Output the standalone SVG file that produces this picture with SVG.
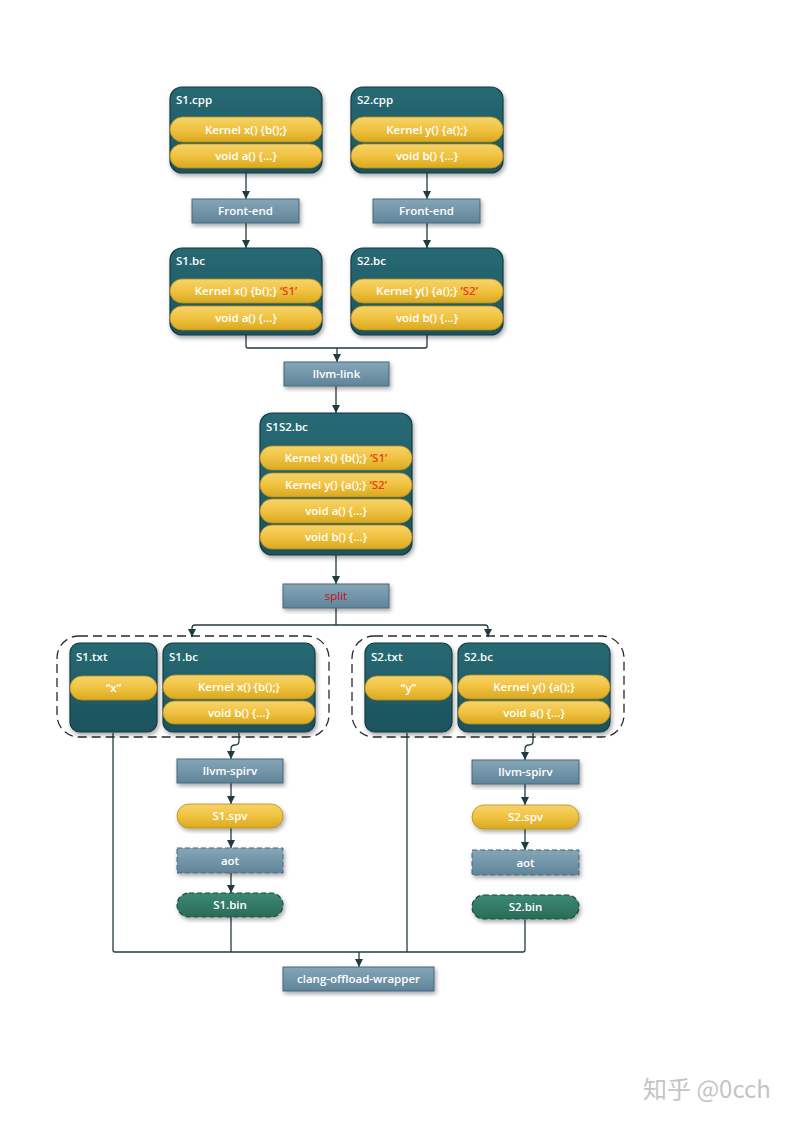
<svg xmlns="http://www.w3.org/2000/svg" width="794" height="1123" viewBox="0 0 794 1123">
<defs>
<linearGradient id="gBox" x1="0" y1="0" x2="0" y2="1"><stop offset="0" stop-color="#276a74"/><stop offset="1" stop-color="#1c525c"/></linearGradient>
<linearGradient id="gPill" x1="0" y1="0" x2="0" y2="1"><stop offset="0" stop-color="#f6d36a"/><stop offset="0.5" stop-color="#f0c240"/><stop offset="1" stop-color="#d9a81f"/></linearGradient>
<linearGradient id="gProc" x1="0" y1="0" x2="0" y2="1"><stop offset="0" stop-color="#86a6b8"/><stop offset="1" stop-color="#5f8499"/></linearGradient>
<linearGradient id="gBin" x1="0" y1="0" x2="0" y2="1"><stop offset="0" stop-color="#3c8a74"/><stop offset="1" stop-color="#2a6b58"/></linearGradient>
<filter id="sh" x="-10%" y="-10%" width="125%" height="135%"><feDropShadow dx="1.5" dy="2.5" stdDeviation="2" flood-color="#000" flood-opacity="0.35"/></filter>
<marker id="arr" markerWidth="10" markerHeight="10" refX="9" refY="5" orient="auto" markerUnits="userSpaceOnUse"><path d="M1,1 L9,5 L1,9 Z" fill="#1f3c42"/></marker>
</defs>
<style>
.box{fill:url(#gBox);stroke:#173a40;stroke-width:1.2;filter:url(#sh)}
.pill{fill:url(#gPill);stroke:#b88d18;stroke-width:0.8}
.proc{fill:url(#gProc);stroke:#46677a;stroke-width:1;filter:url(#sh)}
.dash{stroke-dasharray:5 3}
.bin{fill:url(#gBin);stroke:#1e4a3e;stroke-width:1.2;filter:url(#sh)}
.grp{fill:none;stroke:#2a2a2a;stroke-width:1.3;stroke-dasharray:9 5}
.t{font-family:"Open Sans","Liberation Sans",sans-serif;font-size:11.5px;fill:#fff;font-weight:600}
.c{text-anchor:middle}
.red{fill:#e8401c}
.conn path{fill:none;stroke:#1f3c42;stroke-width:1.3}
</style>

<g id="connectors" class="conn">
<path d="M246 173 V199" marker-end="url(#arr)"/>
<path d="M246 223 V248" marker-end="url(#arr)"/>
<path d="M427 173 V199" marker-end="url(#arr)"/>
<path d="M427 223 V248" marker-end="url(#arr)"/>
<path d="M246 335 V346 Q246 348 248 348 H425 Q427 348 427 346 V335"/>
<path d="M337 348 V362" marker-end="url(#arr)"/>
<path d="M336 386 V413" marker-end="url(#arr)"/>
<path d="M336 555 V584" marker-end="url(#arr)"/>
<path d="M336 608 V625"/>
<path d="M336 625 H195 Q192 625 192 628 V637" marker-end="url(#arr)"/>
<path d="M336 625 H485 Q488 625 488 628 V637" marker-end="url(#arr)"/>
<path d="M239 733 V741 Q239 745 235 745 Q231 745 231 749 V759" marker-end="url(#arr)"/>
<path d="M231 783 V804" marker-end="url(#arr)"/>
<path d="M231 828 V848" marker-end="url(#arr)"/>
<path d="M231 873 V893" marker-end="url(#arr)"/>
<path d="M533 733 V741 Q533 745 529 745 Q525 745 525 749 V760" marker-end="url(#arr)"/>
<path d="M525 784 V805" marker-end="url(#arr)"/>
<path d="M525 829 V850" marker-end="url(#arr)"/>
<path d="M113 733 V950 Q113 952 115 952 H523 Q525 952 525 950 V920"/>
<path d="M231 917 V952"/>
<path d="M407 733 V952"/>
<path d="M359 952 V967" marker-end="url(#arr)"/>
</g>

<g id="S1cpp">
<rect class="box" x="170" y="87" width="152" height="86" rx="12"/>
<text class="t" x="176" y="104">S1.cpp</text>
<rect class="pill" x="170" y="117" width="152" height="25" rx="12.5"/>
<text class="t c" x="246" y="133.5">Kernel x() {b();}</text>
<rect class="pill" x="170" y="144" width="152" height="24" rx="12"/>
<text class="t c" x="246" y="160">void a() {…}</text>
</g>
<g id="S2cpp">
<rect class="box" x="351" y="87" width="152" height="86" rx="12"/>
<text class="t" x="357" y="104">S2.cpp</text>
<rect class="pill" x="351" y="117" width="152" height="25" rx="12.5"/>
<text class="t c" x="427" y="133.5">Kernel y() {a();}</text>
<rect class="pill" x="351" y="144" width="152" height="24" rx="12"/>
<text class="t c" x="427" y="160">void b() {…}</text>
</g>

<g id="FE1"><rect class="proc" x="192" y="199" width="107" height="24"/><text class="t c" x="245.5" y="215">Front-end</text></g>
<g id="FE2"><rect class="proc" x="373" y="199" width="107" height="24"/><text class="t c" x="426.5" y="215">Front-end</text></g>

<g id="S1bc">
<rect class="box" x="170" y="248" width="152" height="87" rx="12"/>
<text class="t" x="176" y="265">S1.bc</text>
<rect class="pill" x="170" y="279" width="152" height="24" rx="12"/>
<text class="t c" x="246" y="295">Kernel x() {b();} <tspan class="red">‘S1’</tspan></text>
<rect class="pill" x="170" y="306" width="152" height="24" rx="12"/>
<text class="t c" x="246" y="322">void a() {…}</text>
</g>
<g id="S2bc">
<rect class="box" x="351" y="248" width="152" height="87" rx="12"/>
<text class="t" x="357" y="265">S2.bc</text>
<rect class="pill" x="351" y="279" width="152" height="24" rx="12"/>
<text class="t c" x="427" y="295">Kernel y() {a();} <tspan class="red">‘S2’</tspan></text>
<rect class="pill" x="351" y="306" width="152" height="24" rx="12"/>
<text class="t c" x="427" y="322">void b() {…}</text>
</g>

<g id="llvmlink"><rect class="proc" x="284" y="362" width="105" height="24"/><text class="t c" x="336.5" y="378">llvm-link</text></g>

<g id="S1S2bc">
<rect class="box" x="260" y="413" width="152" height="142" rx="12"/>
<text class="t" x="266" y="431">S1S2.bc</text>
<rect class="pill" x="260" y="446" width="152" height="24" rx="12"/>
<text class="t c" x="336" y="462">Kernel x() {b();} <tspan class="red">‘S1’</tspan></text>
<rect class="pill" x="260" y="473" width="152" height="24" rx="12"/>
<text class="t c" x="336" y="489">Kernel y() {a();} <tspan class="red">‘S2’</tspan></text>
<rect class="pill" x="260" y="499" width="152" height="24" rx="12"/>
<text class="t c" x="336" y="515">void a() {…}</text>
<rect class="pill" x="260" y="525" width="152" height="24" rx="12"/>
<text class="t c" x="336" y="541">void b() {…}</text>
</g>

<g id="split"><rect class="proc" x="283" y="584" width="106" height="24"/><text class="t c" x="336" y="600" style="fill:#c0101a;font-weight:400">split</text></g>

<g id="group1">
<rect class="grp" x="57" y="636" width="272" height="101" rx="22"/>
</g>
<g id="S1txt">
<rect class="box" x="70" y="643" width="87" height="89" rx="10"/>
<text class="t" x="76" y="661">S1.txt</text>
<rect class="pill" x="70" y="676" width="87" height="24" rx="12"/>
<text class="t c" x="113.5" y="692">“x”</text>
</g>
<g id="S1bc2">
<rect class="box" x="163" y="643" width="152" height="89" rx="10"/>
<text class="t" x="169" y="661">S1.bc</text>
<rect class="pill" x="163" y="675" width="152" height="24" rx="12"/>
<text class="t c" x="239" y="691">Kernel x() {b();}</text>
<rect class="pill" x="163" y="701" width="152" height="23" rx="11.5"/>
<text class="t c" x="239" y="716.5">void b() {…}</text>
</g>

<g id="group2">
<rect class="grp" x="352" y="636" width="272" height="101" rx="22"/>
</g>
<g id="S2txt">
<rect class="box" x="365" y="643" width="87" height="89" rx="10"/>
<text class="t" x="371" y="661">S2.txt</text>
<rect class="pill" x="365" y="676" width="87" height="24" rx="12"/>
<text class="t c" x="408.5" y="692">“y”</text>
</g>
<g id="S2bc2">
<rect class="box" x="458" y="643" width="152" height="89" rx="10"/>
<text class="t" x="464" y="661">S2.bc</text>
<rect class="pill" x="458" y="675" width="152" height="24" rx="12"/>
<text class="t c" x="534" y="691">Kernel y() {a();}</text>
<rect class="pill" x="458" y="701" width="152" height="23" rx="11.5"/>
<text class="t c" x="534" y="716.5">void a() {…}</text>
</g>

<g id="spirv1"><rect class="proc" x="177" y="759" width="106" height="24"/><text class="t c" x="230" y="775">llvm-spirv</text></g>
<g id="spv1"><rect class="pill" x="177" y="804" width="106" height="24" rx="12" style="filter:url(#sh)"/><text class="t c" x="230" y="820">S1.spv</text></g>
<g id="aot1"><rect class="proc dash" x="177" y="848" width="106" height="25"/><text class="t c" x="230" y="864.5">aot</text></g>
<g id="bin1"><rect class="bin dash" x="177" y="893" width="106" height="24" rx="12"/><text class="t c" x="230" y="909">S1.bin</text></g>

<g id="spirv2"><rect class="proc" x="472" y="760" width="107" height="24"/><text class="t c" x="525.5" y="776">llvm-spirv</text></g>
<g id="spv2"><rect class="pill" x="472" y="805" width="107" height="24" rx="12" style="filter:url(#sh)"/><text class="t c" x="525.5" y="821">S2.spv</text></g>
<g id="aot2"><rect class="proc dash" x="472" y="850" width="107" height="25"/><text class="t c" x="525.5" y="866.5">aot</text></g>
<g id="bin2"><rect class="bin dash" x="472" y="895" width="107" height="24" rx="12"/><text class="t c" x="525.5" y="911">S2.bin</text></g>

<g id="wrapper"><rect class="proc" x="283" y="967" width="151" height="24"/><text class="t c" x="358.5" y="983">clang-offload-wrapper</text></g>

<text x="643" y="1098" style="font-family:'Noto Sans CJK SC','Noto Sans',sans-serif;font-size:24px;fill:#c4c4c4">知乎 @0cch</text>
</svg>
